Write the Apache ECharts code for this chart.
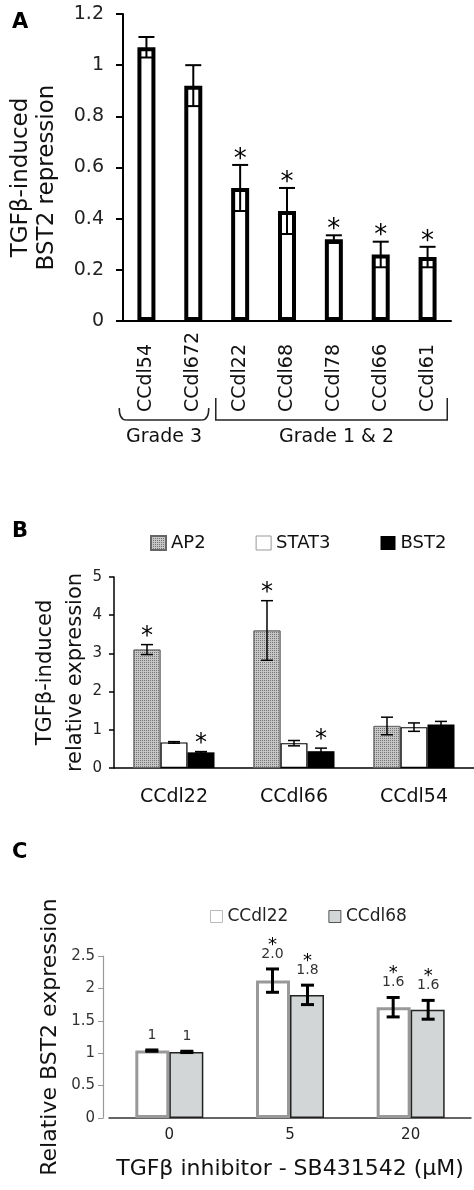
<!DOCTYPE html>
<html><head><meta charset="utf-8">
<script src="https://cdn.jsdelivr.net/npm/echarts@6.0.0/dist/echarts.min.js"></script>
<style>html,body{margin:0;padding:0;background:#fff}#c{width:474px;height:1190px}</style>
</head><body><div id="c"></div>
<script>
const FONT = '"DejaVu Sans", sans-serif';

// ---------- Panel A ----------
const aCategories = ['CCdl54','CCdl672','CCdl22','CCdl68','CCdl78','CCdl66','CCdl61'];
const aValues = [1.07, 0.92, 0.52, 0.43, 0.32, 0.26, 0.25];
const aErrors = [0.04, 0.08, 0.09, 0.09, 0.015, 0.05, 0.04];
const aStars  = [0, 0, 1, 1, 1, 1, 1];
const aGroupNames = ['Grade 3', 'Grade 1 & 2'];
const aGroupFrom  = [0, 2];
const aGroupTo    = [1, 6];

// ---------- Panel B ----------
const bCategories = ['CCdl22','CCdl66','CCdl54'];
const bSeriesNames = ['AP2','STAT3','BST2'];
const bAP2      = [3.10, 3.60, 1.10];
const bAP2Err   = [0.13, 0.78, 0.23];
const bAP2Stars = [1, 1, 0];
const bSTAT3      = [0.67, 0.65, 1.07];
const bSTAT3Err   = [0.02, 0.07, 0.11];
const bSTAT3Stars = [0, 0, 0];
const bBST2      = [0.41, 0.44, 1.14];
const bBST2Err   = [0.02, 0.08, 0.08];
const bBST2Stars = [1, 1, 0];

// ---------- Panel C ----------
const cCategories = ['0','5','20'];
const cSeriesNames = ['CCdl22','CCdl68'];
const c22       = [1.04, 2.12, 1.71];
const c22Err    = [0.01, 0.18, 0.15];
const c22Labels = ['1','2.0','1.6'];
const c22Stars  = [0, 1, 1];
const c68       = [1.02, 1.90, 1.67];
const c68Err    = [0.01, 0.15, 0.145];
const c68Labels = ['1','1.8','1.6'];
const c68Stars  = [0, 1, 1];

function errSeries(idx, vals, errs, stars, labels, st) {
  return {
    type: 'custom', xAxisIndex: idx, yAxisIndex: idx, z: 5, silent: true,
    data: vals.map((v, i) => [i, v, errs[i], stars[i]]),
    encode: {x: 0, y: 1},
    renderItem: function (params, api) {
      const i = api.value(0), v = api.value(1), e = api.value(2), s = api.value(3);
      const hi = api.coord([i, v + e]), lo = api.coord([i, v - e]);
      const x = hi[0] + st.offset;
      const ls = {stroke: st.color, lineWidth: st.lw};
      const ch = [
        {type: 'line', shape: {x1: x, y1: hi[1], x2: x, y2: lo[1]}, style: ls},
        {type: 'line', shape: {x1: x - st.cap / 2, y1: hi[1], x2: x + st.cap / 2, y2: hi[1]}, style: ls},
        {type: 'line', shape: {x1: x - st.cap / 2, y1: lo[1], x2: x + st.cap / 2, y2: lo[1]}, style: ls}
      ];
      if (labels) {
        ch.push({type: 'text', x: x, y: hi[1] - st.labelDy,
          style: {text: labels[params.dataIndex], font: st.labelFont, fill: st.labelColor, align: 'center', verticalAlign: 'middle'}});
      }
      if (s) {
        ch.push({type: 'text', x: x, y: hi[1] - st.starDy,
          style: {text: '*', font: st.starFont, fill: '#000', align: 'center', verticalAlign: 'middle'}});
      }
      return {type: 'group', children: ch};
    }
  };
}

const txt = (size, color) => ({fontFamily: FONT, fontSize: size, color: color || '#111'});

const chart = echarts.init(document.getElementById('c'), null, {renderer: 'canvas'});
const option = {
  animation: false,
  backgroundColor: '#fff',
  grid: [
    {left: 116, top: 14, width: 335, height: 307},
    {left: 114, top: 577, width: 363, height: 191},
    {left: 109, top: 956, width: 362, height: 162}
  ],
  legend: [
    {data: bSeriesNames.map((n, k) => k === 1 ? {name: n, itemStyle: {borderColor: '#999', borderWidth: 1}} : n),
     left: 150, top: 534, padding: 0, icon: 'rect', itemWidth: 15, itemHeight: 14, itemGap: 50,
     textStyle: txt(18), selectedMode: false},
    {data: [{name: 'CCdl22', itemStyle: {color: '#fff', borderColor: '#bbb', borderWidth: 1}},
            {name: 'CCdl68', itemStyle: {borderColor: '#555', borderWidth: 1}}],
     left: 210, top: 908, padding: 0, icon: 'rect', itemWidth: 12, itemHeight: 12, itemGap: 40,
     textStyle: txt(17, '#222'), selectedMode: false}
  ],
  xAxis: [
    {type: 'category', gridIndex: 0, data: aCategories,
     axisLine: {lineStyle: {color: '#000', width: 2}}, axisTick: {show: false},
     axisLabel: Object.assign(txt(19), {rotate: 90, align: 'left', margin: 91, interval: 0})},
    {type: 'category', gridIndex: 1, data: bCategories,
     axisLine: {lineStyle: {color: '#000', width: 1.5}}, axisTick: {show: false},
     axisLabel: Object.assign(txt(19), {margin: 20})},
    {type: 'category', gridIndex: 2, data: cCategories,
     axisLine: {lineStyle: {color: '#333', width: 1.5}}, axisTick: {show: false},
     axisLabel: Object.assign(txt(15, '#222'), {margin: 10}),
     name: 'TGFβ inhibitor - SB431542 (μM)', nameLocation: 'middle', nameGap: 40, nameMoveOverlap: false,
     nameTextStyle: txt(22, '#111')}
  ],
  yAxis: [
    {type: 'value', gridIndex: 0, min: 0, max: 1.2, interval: 0.2,
     axisLine: {show: true, lineStyle: {color: '#000', width: 2}},
     axisTick: {show: true, length: 7, lineStyle: {color: '#000', width: 2}},
     splitLine: {show: false},
     axisLabel: Object.assign(txt(19, '#222'), {margin: 19}),
     name: 'TGFβ-induced\nBST2 repression', nameLocation: 'middle', nameGap: 63, nameMoveOverlap: false,
     nameTextStyle: Object.assign(txt(23), {lineHeight: 26, padding: [0, 20, 0, 0]})},
    {type: 'value', gridIndex: 1, min: 0, max: 5, interval: 1,
     axisLine: {show: true, lineStyle: {color: '#000', width: 1.5}},
     axisTick: {show: true, length: 5, lineStyle: {color: '#000', width: 1.5}},
     splitLine: {show: false},
     axisLabel: Object.assign(txt(15, '#222'), {margin: 12}),
     name: 'TGFβ-induced\nrelative expression', nameLocation: 'middle', nameGap: 23, nameMoveOverlap: false,
     nameTextStyle: Object.assign(txt(21), {lineHeight: 30})},
    {type: 'value', gridIndex: 2, min: 0, max: 2.5, interval: 0.5, offset: 6,
     axisLine: {show: true, lineStyle: {color: '#999', width: 1.2}},
     axisTick: {show: true, length: 5, lineStyle: {color: '#999', width: 1}},
     splitLine: {show: false},
     axisLabel: Object.assign(txt(15, '#333'), {margin: 8}),
     name: 'Relative BST2 expression', nameLocation: 'middle', nameGap: 42, nameMoveOverlap: false,
     nameTextStyle: txt(22, '#111')}
  ],
  series: [
    {type: 'bar', name: 'A', xAxisIndex: 0, yAxisIndex: 0, data: aValues, barWidth: 18,
     itemStyle: {color: '#fff', borderColor: '#000', borderWidth: 4}},
    errSeries(0, aValues, aErrors, aStars, null,
      {offset: 0, color: '#000', lw: 2, cap: 16, starDy: 5, starFont: '26px ' + FONT}),

    {type: 'bar', name: 'AP2', xAxisIndex: 1, yAxisIndex: 1, data: bAP2, barWidth: 27, barGap: '0%',
     itemStyle: {color: '#c6c6c6', borderColor: '#666', borderWidth: 0.8,
       decal: {symbol: 'rect', symbolSize: 1, color: 'rgba(60,60,60,0.6)', dashArrayX: [1, 1], dashArrayY: [1, 1]}}},
    {type: 'bar', name: 'STAT3', xAxisIndex: 1, yAxisIndex: 1, data: bSTAT3, barWidth: 27, barGap: '0%',
     itemStyle: {color: '#fff', borderColor: '#000', borderWidth: 1.2}},
    {type: 'bar', name: 'BST2', xAxisIndex: 1, yAxisIndex: 1, data: bBST2, barWidth: 27, barGap: '0%',
     itemStyle: {color: '#000'}},
    errSeries(1, bAP2, bAP2Err, bAP2Stars, null,
      {offset: -27, color: '#000', lw: 1.5, cap: 12, starDy: 8, starFont: '24px ' + FONT}),
    errSeries(1, bSTAT3, bSTAT3Err, bSTAT3Stars, null,
      {offset: 0, color: '#000', lw: 1.5, cap: 12, starDy: 8, starFont: '24px ' + FONT}),
    errSeries(1, bBST2, bBST2Err, bBST2Stars, null,
      {offset: 27, color: '#000', lw: 1.5, cap: 12, starDy: 8, starFont: '24px ' + FONT}),

    {type: 'bar', name: 'CCdl22', xAxisIndex: 2, yAxisIndex: 2, data: c22, barWidth: 34, barGap: '0%',
     itemStyle: {color: '#fff', borderColor: '#999', borderWidth: 3}},
    {type: 'bar', name: 'CCdl68', xAxisIndex: 2, yAxisIndex: 2, data: c68, barWidth: 34, barGap: '0%',
     itemStyle: {color: '#d3d6d6', borderColor: '#222', borderWidth: 1.5}},
    errSeries(2, c22, c22Err, c22Stars, c22Labels,
      {offset: -17.5, color: '#000', lw: 3, cap: 13, starDy: 24, starFont: '18px ' + FONT,
       labelDy: 15, labelFont: '14px ' + FONT, labelColor: '#333'}),
    errSeries(2, c68, c68Err, c68Stars, c68Labels,
      {offset: 17.5, color: '#000', lw: 3, cap: 13, starDy: 24, starFont: '18px ' + FONT,
       labelDy: 15, labelFont: '14px ' + FONT, labelColor: '#333'})
  ]
};
chart.setOption(option);

// Group brackets under panel A, positioned from the category axis
const px = i => chart.convertToPixel({xAxisIndex: 0}, aCategories[i]);
const bw = px(1) - px(0);
const lineStyle = {stroke: '#222', lineWidth: 1.5, fill: null};
const graphics = [
  {type: 'text', x: 12, y: 12, style: {text: 'A', font: 'bold 21px ' + FONT, fill: '#000'}},
  {type: 'text', x: 12, y: 521, style: {text: 'B', font: 'bold 21px ' + FONT, fill: '#000'}},
  {type: 'text', x: 12, y: 842, style: {text: 'C', font: 'bold 21px ' + FONT, fill: '#000'}}
];
aGroupNames.forEach((name, g) => {
  const brace = g === 0;
  const xL = px(aGroupFrom[g]) - bw * (brace ? 0.58 : 0.52);
  const xR = px(aGroupTo[g]) + bw * (brace ? 0.33 : 0.42);
  if (brace) {
    graphics.push({type: 'bezierCurve', shape: {x1: xL, y1: 408, x2: xL + 7, y2: 420, cpx1: xL, cpy1: 420}, style: lineStyle});
    graphics.push({type: 'line', shape: {x1: xL + 7, y1: 420, x2: xR - 7, y2: 420}, style: lineStyle});
    graphics.push({type: 'bezierCurve', shape: {x1: xR - 7, y1: 420, x2: xR, y2: 408, cpx1: xR, cpy1: 420}, style: lineStyle});
  } else {
    graphics.push({type: 'polyline', shape: {points: [[xL, 398], [xL, 420], [xR, 420], [xR, 398]]}, style: lineStyle});
  }
  graphics.push({type: 'text', x: (xL + xR) / 2 + (brace ? 0 : 5), y: 437,
    style: {text: name, font: '19px ' + FONT, fill: '#111', align: 'center', verticalAlign: 'middle'}});
});
chart.setOption({graphic: graphics});
</script>
</body></html>
